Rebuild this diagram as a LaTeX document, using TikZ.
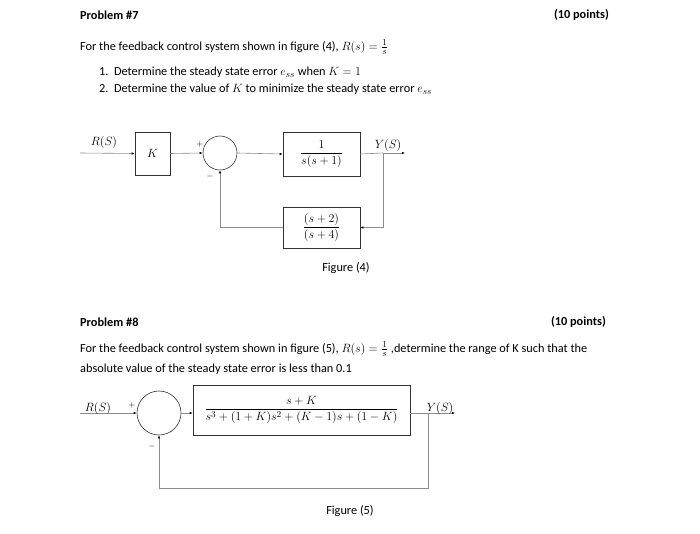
\documentclass[tikz,border=0pt]{standalone}
\usepackage{amsmath}
\usepackage{fontspec}
\setmainfont{Carlito}
\usetikzlibrary{arrows.meta}
\begin{document}
\begin{tikzpicture}[x=1pt,y=-1pt,font=\fontsize{12.3}{14}\selectfont,
  blk/.style={draw=black!80,line width=0.6pt,inner sep=0pt},
  ln/.style={draw=black!45,line width=0.6pt},
  arr/.style={ln,-{Latex[length=3pt,width=2.5pt,black]}},
  txt/.style={inner sep=0pt,anchor=west}]
\useasboundingbox (0,0) rectangle (700,534);
% texts
\node[txt,font=\fontsize{12.3}{14}\selectfont\bfseries] (p7) at (80,15) {Problem \#7};
\node[inner sep=0pt,anchor=east,font=\fontsize{12.3}{14}\selectfont\bfseries] (pt7) at (609,15) {(10 points)};
\node[txt] (t1) at (80,47) {For the feedback control system shown in figure (4), $R(s)=\tfrac{1}{s}$};
\node[txt] (l1) at (99,72) {1.\ \ Determine the steady state error $e_{ss}$ when $K=1$};
\node[txt] (l2) at (99,89) {2.\ \ Determine the value of $K$ to minimize the steady state error $e_{ss}$};
\node[txt,font=\fontsize{12.3}{14}\selectfont\bfseries] (p8) at (80,322) {Problem \#8};
\node[inner sep=0pt,anchor=east,font=\fontsize{12.3}{14}\selectfont\bfseries] (pt8) at (606,322) {(10 points)};
\node[txt] (t2) at (80,349) {For the feedback control system shown in figure (5), $R(s)=\tfrac{1}{s}$ ,determine the range of K such that the};
\node[txt] (t3) at (80,369) {absolute value of the steady state error is less than 0.1};
% figure 4
\coordinate (in4) at (80,153);
\node[blk,minimum width=35pt,minimum height=43pt] (K) at (152.5,153.5) {$K$};
\node[blk,circle,minimum size=34pt] (s4) at (220,153) {};
\node[blk,minimum width=77pt,minimum height=44pt] (G) at (321.5,154) {$\dfrac{1}{s(s+1)}$};
\node[blk,minimum width=77pt,minimum height=41pt] (H) at (321.5,227.5) {$\dfrac{(s+2)}{(s+4)}$};
\coordinate (b4) at (383,153);
\coordinate (o4) at (405,153);
\draw[arr] (in4) -- (K.west);
\draw[arr] (K.east) -- (s4.west);
\draw[arr] (s4.east) -- (G.west);
\draw[ln] (G.east) -- (b4);
\draw[arr] (b4) -- (o4);
\draw[arr] (b4) |- (H.east);
\draw[arr] (H.west) -| (s4.south);
\node (r4) at (104,143) {$R(S)$};
\node (y4) at (388,146) {$Y(S)$};
\node (pl4) at (200,145) {\footnotesize $+$};
\node (mi4) at (210,177) {\footnotesize $-$};
\node (f4) at (346,268) {Figure (4)};
% figure 5
\coordinate (in5) at (80,413);
\node[blk,circle,minimum size=44pt] (s5) at (159,413) {};
\node[blk,minimum width=217pt,minimum height=50pt] (G5) at (301.5,410) {$\dfrac{s+K}{s^3+(1+K)s^2+(K-1)s+(1-K)}$};
\coordinate (b5) at (428,413);
\coordinate (o5) at (455,413);
\coordinate (d5) at (428,488);
\draw[arr] (in5) -- (s5.west);
\draw[arr] (s5.east) -- (G5.west|-s5.east);
\draw[ln] (G5.east|-b5) -- (b5);
\draw[arr] (b5) -- (o5);
\draw[arr] (b5) -- (d5) -| (s5.south);
\node (r5) at (98,408) {$R(S)$};
\node (y5) at (440,408) {$Y(S)$};
\node (pl5) at (132,405) {\footnotesize $+$};
\node (mi5) at (152,446) {\footnotesize $-$};
\node (f5) at (350,511) {Figure (5)};
\end{tikzpicture}
\end{document}
